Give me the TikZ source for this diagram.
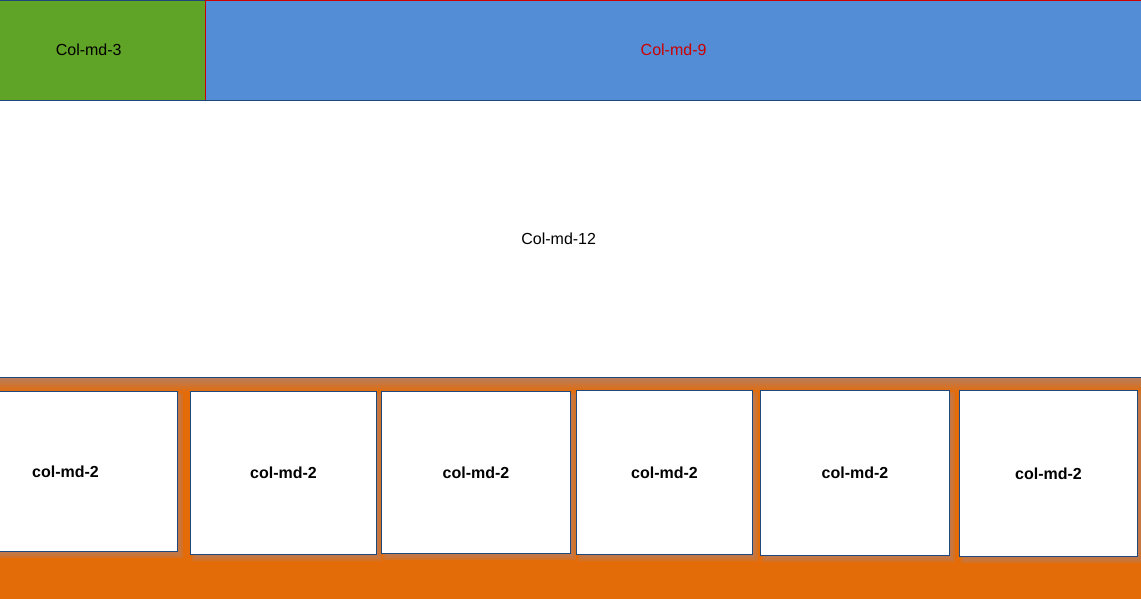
\documentclass[tikz,border=0pt]{standalone}
\usepackage{fontspec}
\setmainfont{Liberation Sans}
\usepackage{tikz}
\usetikzlibrary{positioning}
\definecolor{gridgreen}{RGB}{95,163,39}
\definecolor{gridblue}{RGB}{83,141,213}
\definecolor{gridorange}{RGB}{227,108,9}
\definecolor{gridline}{RGB}{31,73,125}
\definecolor{gridred}{RGB}{204,0,0}
\definecolor{gridshade}{RGB}{185,125,90}

\begin{document}
\begin{tikzpicture}[x=1pt,y=-1pt,
    colbox/.style={inner sep=0pt, anchor=north west, font=\fontsize{16}{19}\selectfont},
    cellbox/.style={draw=gridline, fill=white, line width=1pt, inner sep=0pt,
      anchor=north west, font=\bfseries\fontsize{16}{19}\selectfont}]
  \useasboundingbox (0,0) rectangle (1141,599);
  \clip (0,0) rectangle (1141,599);
  % header row
  \node[colbox, fill=gridgreen, minimum width=205pt, minimum height=100pt,
    label={[font=\fontsize{16}{19}\selectfont, xshift=-14pt]center:Col-md-3}] (md3) at (0,0) {};
  \node[colbox, fill=gridblue, text=gridred, minimum width=936pt, minimum height=100pt] (md9) [right=0pt of md3.north east, anchor=north west] {Col-md-9};
  \draw[gridline, line width=1pt] ([yshift=-0.5pt]md3.north west) -- ([yshift=-0.5pt]md3.north east);
  \draw[gridline, line width=1pt] (md3.south west) -- (md9.south east);
  \draw[gridred, line width=1pt] ([xshift=0.5pt]md9.south west) -- ([xshift=0.5pt,yshift=-0.5pt]md9.north west) -- ([yshift=-0.5pt]md9.north east);
  % full row
  \node[colbox, minimum width=1141pt, minimum height=277pt,
    label={[font=\fontsize{16}{19}\selectfont, xshift=-12pt]center:Col-md-12}] (md12) [below=0pt of md3.south west, anchor=north west] {};
  % orange row
  \node[inner sep=0pt, anchor=north west, fill=gridorange, minimum width=1141pt, minimum height=222pt] (band) [below=0pt of md12.south west, anchor=north west] {};
  \shade[top color=gridshade, bottom color=gridorange] (band.north west) rectangle ([yshift=-14pt]band.north east);
  \draw[gridline, line width=1pt] (band.north west) -- (band.north east);
  % cells
  \foreach \name/\l/\t/\r/\b in {c1/-47/391/177/551, c2/190/391/376/554, c3/381/391/570/553,
                                 c4/576/390/752/554, c5/760/390/949/555, c6/959/390/1137/556}{
    \foreach \s in {0,2,4}
      \fill[gridshade, opacity=0.4] (\l+2+\s,\t+2+\s) rectangle (\r+6-\s,\b+7-\s);
    \node[cellbox, minimum width={(\r-\l)*1pt}, minimum height={(\b-\t)*1pt}] (\name) at (\l,\t) {col-md-2};
  }
\end{tikzpicture}
\end{document}
